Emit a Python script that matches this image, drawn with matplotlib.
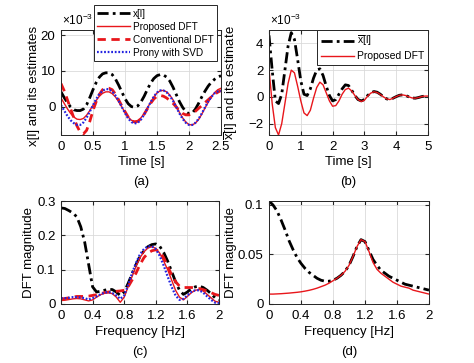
import numpy as np
import matplotlib
matplotlib.use('Agg')
import matplotlib.pyplot as plt

plt.rcParams['font.family'] = ['Liberation Sans', 'DejaVu Sans']
plt.rcParams['mathtext.fontset'] = 'custom'
plt.rcParams['mathtext.rm'] = 'Liberation Sans'
plt.rcParams['mathtext.it'] = 'Liberation Sans:italic'

# (a) time-domain signal and estimates, x1e-3, t = 0..2.5 s step 0.05
t_a = np.linspace(0, 2.5, 51)
x_a = [4.2, 2.6, 1.2, 0.0, -0.8, -1.0, -1.0, -0.6, 0.6, 2.6,
       4.8, 6.8, 8.3, 9.2, 9.5, 9.5, 9.0, 7.8, 6.1, 4.2,
       2.3, 0.9, 0.1, -0.1, 0.3, 1.4, 3.0, 4.9, 6.6, 7.9,
       8.7, 9.0, 8.9, 8.3, 7.2, 5.5, 3.5, 1.5, -0.1, -1.3,
       -1.9, -1.7, -0.6, 1.0, 2.8, 4.4, 5.8, 6.9, 7.7, 8.3, 8.7]
prop_a = [2.5, 1.0, -0.5, -1.8, -2.8, -3.4, -3.5, -3.2, -2.3, -1.0,
          0.5, 1.8, 3.0, 3.8, 4.2, 4.2, 3.7, 2.8, 1.5, 0.0,
          -1.5, -2.8, -3.7, -4.0, -3.8, -3.0, -1.8, -0.3, 1.3, 2.8,
          3.9, 4.5, 4.6, 4.2, 3.3, 2.0, 0.3, -1.5, -3.0, -4.2,
          -4.9, -5.0, -4.5, -3.5, -2.0, -0.3, 1.3, 2.8, 4.0, 4.8, 5.2]
conv_a = [6.5, 4.5, 2.0, -0.5, -3.0, -5.3, -7.0, -7.5, -6.5, -4.0,
          -1.0, 1.5, 3.5, 4.8, 5.2, 5.2, 4.8, 3.6, 2.0, 0.3,
          -1.3, -2.8, -3.8, -4.2, -4.0, -3.3, -2.0, -0.5, 1.0, 2.2,
          3.0, 3.2, 3.0, 2.5, 1.8, 1.0, 0.0, -1.0, -1.8, -2.2,
          -2.2, -1.8, -1.2, -0.4, 0.4, 1.2, 2.0, 2.8, 3.5, 4.1, 4.6]
prony_a = [0.5, -1.0, -2.5, -3.7, -4.5, -5.0, -5.0, -4.3, -3.0, -1.3,
           0.5, 2.2, 3.6, 4.5, 5.0, 4.9, 4.3, 3.2, 1.7, 0.0,
           -1.7, -3.2, -4.2, -4.6, -4.4, -3.5, -2.1, -0.4, 1.3, 2.9,
           4.0, 4.6, 4.6, 4.1, 3.1, 1.7, 0.0, -1.8, -3.3, -4.4,
           -5.0, -5.0, -4.4, -3.3, -1.8, -0.1, 1.5, 2.8, 3.8, 4.3, 4.4]

# (b) x-bar and proposed estimate, x1e-3, t = 0..5 s step 0.1
t_b = np.linspace(0, 5, 51)
xbar_b = [4.6, 2.0, -0.3, -0.5, 0.2, 2.0, 3.8, 4.8, 4.3, 2.8,
          1.2, 0.2, 0.1, 0.6, 1.4, 2.0, 2.1, 1.6, 0.8, 0.1,
          -0.3, -0.2, 0.2, 0.6, 0.9, 0.85, 0.5, 0.1, -0.2, -0.3,
          -0.2, 0.1, 0.3, 0.4, 0.35, 0.2, 0.0, -0.15, -0.2, -0.1,
          0.02, 0.12, 0.15, 0.1, 0.0, -0.08, -0.1, -0.05, 0.02, 0.06, 0.06]
prop_b = [2.1, -0.5, -2.3, -2.85, -2.0, -0.5, 1.0, 2.0, 1.8, 0.8,
          -0.3, -1.2, -1.4, -1.0, -0.1, 0.7, 1.1, 0.9, 0.3, -0.3,
          -0.7, -0.65, -0.3, 0.2, 0.55, 0.65, 0.45, 0.1, -0.2, -0.35,
          -0.25, 0.05, 0.28, 0.38, 0.33, 0.18, 0.0, -0.15, -0.2, -0.1,
          0.02, 0.12, 0.15, 0.1, 0.0, -0.08, -0.1, -0.05, 0.02, 0.06, 0.06]

# (c) DFT magnitudes, f = 0..2 Hz step 0.05
f = np.linspace(0, 2, 41)
x_c = [0.280, 0.278, 0.272, 0.265, 0.254, 0.225, 0.180, 0.115, 0.050, 0.035,
       0.037, 0.040, 0.043, 0.042, 0.035, 0.025, 0.035, 0.060, 0.088, 0.115,
       0.138, 0.155, 0.167, 0.173, 0.175, 0.168, 0.150, 0.125, 0.095, 0.065,
       0.040, 0.028, 0.035, 0.045, 0.050, 0.052, 0.048, 0.040, 0.030, 0.018, 0.012]
prop_c = [0.010, 0.011, 0.013, 0.015, 0.016, 0.015, 0.012, 0.009, 0.012, 0.020,
          0.027, 0.032, 0.033, 0.030, 0.020, 0.005, 0.020, 0.050, 0.080, 0.110,
          0.135, 0.152, 0.163, 0.167, 0.162, 0.148, 0.125, 0.100, 0.070, 0.040,
          0.020, 0.012, 0.022, 0.033, 0.040, 0.042, 0.038, 0.028, 0.018, 0.008, 0.005]
conv_c = [0.015, 0.016, 0.018, 0.020, 0.022, 0.022, 0.022, 0.023, 0.025, 0.027,
          0.030, 0.033, 0.035, 0.036, 0.037, 0.038, 0.040, 0.050, 0.070, 0.090,
          0.115, 0.135, 0.148, 0.155, 0.158, 0.152, 0.135, 0.110, 0.085, 0.065,
          0.052, 0.048, 0.048, 0.048, 0.047, 0.045, 0.042, 0.038, 0.033, 0.028, 0.025]
prony_c = [0.017, 0.017, 0.018, 0.020, 0.020, 0.019, 0.017, 0.013, 0.017, 0.022,
           0.028, 0.033, 0.035, 0.032, 0.025, 0.015, 0.025, 0.055, 0.090, 0.120,
           0.145, 0.160, 0.168, 0.168, 0.160, 0.140, 0.112, 0.080, 0.050, 0.025,
           0.012, 0.015, 0.025, 0.035, 0.040, 0.040, 0.033, 0.022, 0.012, 0.004, 0.003]

# (d)
xbar_d = [0.104, 0.100, 0.094, 0.085, 0.075, 0.064, 0.055, 0.047, 0.041, 0.036,
          0.032, 0.029, 0.026, 0.024, 0.023, 0.023, 0.024, 0.026, 0.029, 0.033,
          0.039, 0.048, 0.058, 0.065, 0.063, 0.054, 0.045, 0.039, 0.034, 0.031,
          0.028, 0.026, 0.024, 0.022, 0.020, 0.019, 0.018, 0.017, 0.016, 0.015, 0.014]
prop_d = [0.0100, 0.0100, 0.0102, 0.0104, 0.0107, 0.0110, 0.0114, 0.0118, 0.0123, 0.0130,
          0.0138, 0.0148, 0.0160, 0.0175, 0.0190, 0.0210, 0.0235, 0.0260, 0.0290, 0.0330,
          0.0390, 0.0480, 0.0580, 0.0650, 0.0630, 0.0530, 0.0420, 0.0350, 0.0310, 0.0280,
          0.0250, 0.0220, 0.0200, 0.0180, 0.0170, 0.0160, 0.0140, 0.0130, 0.0120, 0.0110, 0.0100]

blk = dict(color='black', lw=2.0, dashes=(4, 1.5, 1, 1.5))
red = dict(color='#e8161b', lw=1.0)
redd = dict(color='#e8161b', lw=2.0, dashes=(3, 2))
blu = dict(color='#2323e0', lw=1.6, dashes=(0.8, 0.8))

W, H = 474, 363
fig = plt.figure(figsize=(W / 100, H / 100), dpi=100)

def make_ax(l, t, r, b):
    ax = fig.add_axes([l / W, 1 - b / H, (r - l) / W, (b - t) / H])
    ax.grid(True, color='#dadada', lw=0.6)
    ax.set_axisbelow(True)
    ax.tick_params(direction='in', top=True, right=True, length=3,
                   labelsize=9.5, pad=4, color='#262626')
    for s in ax.spines.values():
        s.set_color('#262626')
        s.set_linewidth(0.7)
    return ax

# (a)
ax = make_ax(61, 30, 221, 135)
ax.plot(t_a, x_a, label='x[l]', **blk)
ax.plot(t_a, prop_a, label='Proposed DFT', **red)
ax.plot(t_a, conv_a, label='Conventional DFT', **redd)
ax.plot(t_a, prony_a, label='Prony with SVD', **blu)
ax.set_xlim(0, 2.5)
ax.set_ylim(-7.8, 21.4)
ax.set_xticks([0, 0.5, 1, 1.5, 2, 2.5])
ax.set_xticklabels(['0', '0.5', '1', '1.5', '2', '2.5'])
ax.set_yticks([0, 10, 20])
ax.set_xlabel('Time [s]', fontsize=9.5)
ax.xaxis.set_label_coords(0.5, -0.2)
ax.set_ylabel('x[l] and its estimates', fontsize=9.5)
ax.yaxis.set_label_coords(-0.13, 0.47)
ax.text(0.005, 1.015, r'$\times10^{-3}$', transform=ax.transAxes, fontsize=8.5,
        ha='left', va='bottom')
leg = ax.legend(loc='upper right', bbox_to_anchor=(0.978, 1.235), fontsize=7.2,
                handlelength=3.3, labelspacing=0.3, borderpad=0.35,
                handletextpad=0.3, fancybox=False, framealpha=1,
                edgecolor='#262626', borderaxespad=0)
leg.get_frame().set_linewidth(0.7)
fig.text((61 + 221) / 2 / W, 1 - 182 / H, '(a)', ha='center', va='center', fontsize=9.5)

# (b)
ax = make_ax(269, 30, 428, 135)
ax.plot(t_b, xbar_b, label=r'$\overline{\mathrm{x}}$[l]', **blk)
ax.plot(t_b, prop_b, label='Proposed DFT', **red)
ax.set_xlim(0, 5)
ax.set_ylim(-2.85, 5)
ax.set_xticks([0, 1, 2, 3, 4, 5])
ax.set_yticks([-2, 0, 2, 4])
ax.set_xlabel('Time [s]', fontsize=9.5)
ax.xaxis.set_label_coords(0.5, -0.2)
ax.set_ylabel(r'$\overline{\mathrm{x}}$[l] and its estimate', fontsize=9.5)
ax.yaxis.set_label_coords(-0.18, 0.5)
ax.text(0.005, 1.015, r'$\times10^{-3}$', transform=ax.transAxes, fontsize=8.5,
        ha='left', va='bottom')
leg = ax.legend(loc='upper right', bbox_to_anchor=(1.0, 1.0), fontsize=7.5,
                handlelength=3.2, labelspacing=0.3, borderpad=0.35,
                handletextpad=0.3, fancybox=False, framealpha=1,
                edgecolor='#262626', borderaxespad=0)
leg.get_frame().set_linewidth(0.7)
fig.text((269 + 428) / 2 / W, 1 - 182 / H, '(b)', ha='center', va='center', fontsize=9.5)

# (c)
ax = make_ax(61, 201, 219, 304)
ax.plot(f, x_c, **blk)
ax.plot(f, prop_c, **red)
ax.plot(f, conv_c, **redd)
ax.plot(f, prony_c, **blu)
ax.set_xlim(0, 2)
ax.set_ylim(0, 0.3)
ax.set_xticks([0, 0.4, 0.8, 1.2, 1.6, 2])
ax.set_xticklabels(['0', '0.4', '0.8', '1.2', '1.6', '2'])
ax.set_yticks([0, 0.1, 0.2, 0.3])
ax.set_yticklabels(['0', '0.1', '0.2', '0.3'])
ax.set_xlabel('Frequency [Hz]', fontsize=9.5)
ax.xaxis.set_label_coords(0.5, -0.21)
ax.set_ylabel('DFT magnitude', fontsize=9.5)
ax.yaxis.set_label_coords(-0.165, 0.5)
fig.text((61 + 219) / 2 / W, 1 - 352 / H, '(c)', ha='center', va='center', fontsize=9.5)

# (d)
ax = make_ax(269, 201, 429, 304)
ax.plot(f, xbar_d, **blk)
ax.plot(f, prop_d, **red)
ax.set_xlim(0, 2)
ax.set_ylim(0, 0.104)
ax.set_xticks([0, 0.4, 0.8, 1.2, 1.6, 2])
ax.set_xticklabels(['0', '0.4', '0.8', '1.2', '1.6', '2'])
ax.set_yticks([0, 0.05, 0.1])
ax.set_yticklabels(['0', '0.05', '0.1'])
ax.set_xlabel('Frequency [Hz]', fontsize=9.5)
ax.xaxis.set_label_coords(0.5, -0.21)
ax.set_ylabel('DFT magnitude', fontsize=9.5)
ax.yaxis.set_label_coords(-0.2, 0.5)
fig.text((269 + 429) / 2 / W, 1 - 352 / H, '(d)', ha='center', va='center', fontsize=9.5)

fig.savefig('out.png', dpi=100)
